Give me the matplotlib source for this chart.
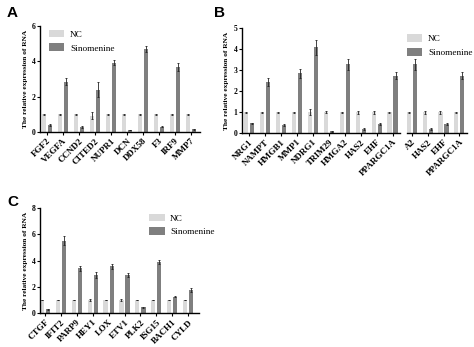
import matplotlib
matplotlib.use("Agg")
import matplotlib.pyplot as plt
import numpy as np

# --- data -----------------------------------------------------------------
genes_a = ["FGF2", "VEGFA", "CCND2", "CITED2", "NUPR1", "DCN", "DDX58", "F3", "IRF9", "MMP7"]
nc_a = [1, 1, 1, 0.92, 1, 1, 1, 1, 1, 1]
nc_a_err = [0.03, 0.03, 0.02, 0.2, 0.04, 0.03, 0.03, 0.03, 0.03, 0.03]
sino_a = [0.4, 2.85, 0.28, 2.4, 3.92, 0.12, 4.7, 0.3, 3.7, 0.15]
sino_a_err = [0.04, 0.2, 0.04, 0.42, 0.15, 0.02, 0.15, 0.03, 0.22, 0.02]

genes_b = ["NRG1", "NAMPT", "HMGB1", "MMP1", "NDRG1", "TRIM29", "HMGA2", "HAS2", "EHF", "PPARGC1A"]
nc_b = [1, 1, 1, 1, 1, 1, 1, 1, 1, 1]
nc_b_err = [0.03, 0.03, 0.03, 0.02, 0.15, 0.05, 0.03, 0.08, 0.08, 0.02]
sino_b = [0.48, 2.45, 0.4, 2.85, 4.1, 0.1, 3.28, 0.2, 0.45, 2.75]
sino_b_err = [0.03, 0.2, 0.05, 0.22, 0.35, 0.02, 0.25, 0.03, 0.05, 0.18]

# broken segment on the right of panel B
genes_b2 = ["A2", "HAS2", "EHF", "PPARGC1A"]
nc_b2 = [1, 1, 1, 1]
nc_b2_err = [0.03, 0.08, 0.08, 0.02]
sino_b2 = [3.28, 0.2, 0.45, 2.75]
sino_b2_err = [0.25, 0.03, 0.05, 0.18]

genes_c = ["CTGF", "IFIT2", "PARP9", "HEY1", "LOX", "ETV1", "PLK2", "ISG15", "BACH1", "CYLD"]
nc_c = [1, 1, 1, 1, 1, 1, 1, 1, 1, 1]
nc_c_err = [0.03, 0.03, 0.03, 0.08, 0.03, 0.05, 0.03, 0.03, 0.03, 0.03]
sino_c = [0.3, 5.5, 3.4, 2.9, 3.55, 2.9, 0.45, 3.88, 1.25, 1.77]
sino_c_err = [0.03, 0.32, 0.22, 0.22, 0.22, 0.17, 0.03, 0.13, 0.05, 0.15]

NC_COLOR = "#d9d9d9"
SINO_COLOR = "#7f7f7f"
W, H = 474, 347

plt.rcParams["font.family"] = ["Liberation Serif", "DejaVu Serif"]
fig = plt.figure(figsize=(W / 100, H / 100), dpi=100)

LEG = dict(loc="upper left", frameon=False, fontsize=6.7, handlelength=1.7,
           handleheight=0.9, handletextpad=0.6, labelspacing=0.5, borderaxespad=0)


def px_axes(x0, x1, ytop, ybot):
    return fig.add_axes([x0 / W, 1 - ybot / H, (x1 - x0) / W, (ybot - ytop) / H])


def bar_panel(ax, genes, nc, nc_err, sino, sino_err, xlim, ymax, yticks, left=True):
    x = np.arange(len(genes))
    ekw = dict(elinewidth=0.6, capsize=1.0, capthick=0.6, ecolor="#222222")
    ax.bar(x - 0.19, nc, 0.26, yerr=nc_err, color=NC_COLOR, error_kw=ekw, label="NC")
    ax.bar(x + 0.19, sino, 0.26, yerr=sino_err, color=SINO_COLOR, error_kw=ekw, label="Sinomenine")
    ax.set_xlim(*xlim)
    ax.set_ylim(0, ymax)
    ax.set_xticks(x)
    ax.set_xticklabels(genes, rotation=45, ha="right", rotation_mode="anchor",
                       fontsize=6.5, fontweight="bold")
    for s in ("top", "right"):
        ax.spines[s].set_visible(False)
    ax.spines["bottom"].set_linewidth(1.0)
    ax.spines["left"].set_linewidth(1.0)
    ax.tick_params(axis="x", length=2, width=0.8, pad=1.5)
    if left:
        ax.set_yticks(yticks)
        ax.set_yticklabels([str(t) for t in yticks], fontsize=5.5, fontweight="bold")
        ax.tick_params(axis="y", length=2, width=0.8, pad=1)
        ax.set_ylabel("The relative expression of RNA", fontsize=5.3,
                      fontweight="bold", labelpad=3)
    else:
        ax.spines["left"].set_visible(False)
        ax.set_yticks([])
    ax.set_facecolor("none")


# panel A
ax_a = px_axes(40, 200, 26, 132)
bar_panel(ax_a, genes_a, nc_a, nc_a_err, sino_a, sino_a_err, (-0.44, 9.56), 6, [0, 2, 4, 6])
ax_a.legend(bbox_to_anchor=(0.03, 1.0), **LEG)

# panel B, two segments with a break in the x axis
ax_b = px_axes(241.7, 400, 28.3, 133.3)
bar_panel(ax_b, genes_b, nc_b, nc_b_err, sino_b, sino_b_err, (-0.48, 9.47), 5, [0, 1, 2, 3, 4, 5])
ax_b2 = px_axes(407, 467, 28.3, 133.3)
bar_panel(ax_b2, genes_b2, nc_b2, nc_b2_err, sino_b2, sino_b2_err, (-0.3, 3.48), 5, [], left=False)
ax_b2.legend(bbox_to_anchor=(-0.07, 0.98), **LEG)

# panel C
ax_c = px_axes(40, 199.3, 207.7, 313.3)
bar_panel(ax_c, genes_c, nc_c, nc_c_err, sino_c, sino_c_err, (-0.31, 9.7), 8, [0, 2, 4, 6, 8])
ax_c.legend(bbox_to_anchor=(0.66, 0.98), **LEG)

for letter, (lx, ly) in {"A": (7, 13), "B": (214, 13), "C": (7, 202)}.items():
    fig.text(lx / W, 1 - ly / H, letter, fontsize=11, fontweight="bold",
             family="Liberation Sans", va="center", ha="left")

fig.savefig("out.png", dpi=100)
